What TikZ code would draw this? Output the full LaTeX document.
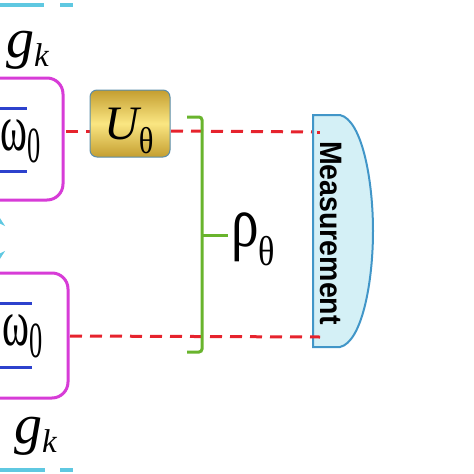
\documentclass[tikz,border=0pt]{standalone}
\usepackage{fontspec}
\setmainfont{Liberation Serif}
\setsansfont{Liberation Sans}
\usetikzlibrary{arrows.meta}

\definecolor{linecyan}{RGB}{95,200,225}
\definecolor{qubitpink}{RGB}{215,60,215}
\definecolor{levelblue}{RGB}{45,65,205}
\definecolor{dashred}{RGB}{230,35,45}
\definecolor{bracegreen}{RGB}{105,180,45}
\definecolor{goldA}{RGB}{196,158,48}
\definecolor{goldB}{RGB}{250,230,130}
\definecolor{meterfill}{RGB}{212,240,246}
\definecolor{meterline}{RGB}{65,150,200}

\newcommand{\fsz}[1]{\fontsize{#1}{#1}\selectfont}

\tikzset{
	qubit/.style={draw=qubitpink, line width=3pt, rounded corners=16pt},
	level/.style={levelblue, line width=3pt},
	probe/.style={dashred, line width=3pt, dash pattern=on 12pt off 8pt},
	txt/.style={inner sep=0pt, anchor=base west},
}

\begin{document}
\begin{tikzpicture}[x=1pt, y=-1pt, >=Stealth]
	\useasboundingbox (0,0) rectangle (474,474);
	\clip (0,0) rectangle (474,474);

	% cyan guide lines, top and bottom
	\draw[linecyan, line width=4pt] (0,5) -- (44,5) (60,5) -- (73,5);
	\draw[linecyan, line width=4pt] (0,470) -- (45,470) (60,470) -- (73,470);

	% coupling labels
	\node[txt] (gtop) at (6,57)
		{\fsz{56}\itshape g\raisebox{-9pt}{\fsz{33}k}};
	\node[txt] (gbot) at (14,443)
		{\fsz{56}\itshape g\raisebox{-9pt}{\fsz{33}k}};

	% two-level systems
	\node[qubit, minimum width=103pt, minimum height=122pt] (boxA) at (11.5,139) {};
	\node[qubit, minimum width=108pt, minimum height=125pt] (boxB) at (14,335.5) {};

	\draw[level] (0,108) -- (27,108) (0,171) -- (27,171);
	\draw[level] (0,303) -- (32,303) (0,367) -- (32,367);

	\node[txt] (wA) at (0,150)
		{\scalebox{0.62}[1]{\fsz{66}ω}\raisebox{-12pt}{\scalebox{0.6}[1.15]{\fsz{44}0}}};
	\node[txt] (wB) at (2,345)
		{\scalebox{0.62}[1]{\fsz{66}ω}\raisebox{-12pt}{\scalebox{0.6}[1.15]{\fsz{44}0}}};

	% exchange arrow between the boxes
	\draw[{Stealth[length=14pt, width=18pt]}-{Stealth[length=14pt, width=18pt]},
		linecyan, line width=3pt] (-4,212) -- (-4,265);

	% probe lines
	\coordinate (lineA) at (66,131);
	\coordinate (lineB) at (70,336);
	\coordinate (mA) at (320,132);
	\coordinate (mB) at (320,337);
	\coordinate (gateA) at (90,131);
	\coordinate (gateB) at (171,131);
	\draw[probe] (lineA) -- (gateA);
	\draw[probe] (gateB) -- (mA);

	% gate
	\node[draw=meterline!60!gray, line width=1pt, rounded corners=7pt,
		top color=goldA, bottom color=goldA, middle color=goldB,
		minimum width=80pt, minimum height=67pt] (gate) at (130,123.5) {};
	\node[txt] (Ulabel) at (104,139)
		{\fsz{48}\itshape U\raisebox{-14pt}{\upshape\scalebox{0.9}[1.1]{\fsz{34}θ}}};

	% measurement device
	\draw[meterline, fill=meterfill, line width=2pt]
		(313,115) -- (340,115)
		.. controls (362,120) and (373,180) .. (373,231)
		.. controls (373,282) and (362,342) .. (340,347)
		-- (313,347) -- cycle;
	\node[rotate=-90, font=\sffamily\bfseries] (meter) at (331,233)
		{\scalebox{0.92}[1]{\fsz{31}Measurement}};

	\draw[probe] (mA) ++(-3,0) -- (mA);
	\draw[probe] (lineB) -- (mB);

	% state brace
	\draw[bracegreen, line width=3pt, rounded corners=3pt]
		(187,117) -- (202,117) -- (202,352) -- (187,352);
	\draw[bracegreen, line width=3pt] (202,235) -- (228,235);
	\node[txt] (rho) at (231,246)
		{\scalebox{0.92}[1.2]{\fsz{60}ρ}\raisebox{-19pt}{\scalebox{0.9}[1.1]{\fsz{38}θ}}};
\end{tikzpicture}
\end{document}
